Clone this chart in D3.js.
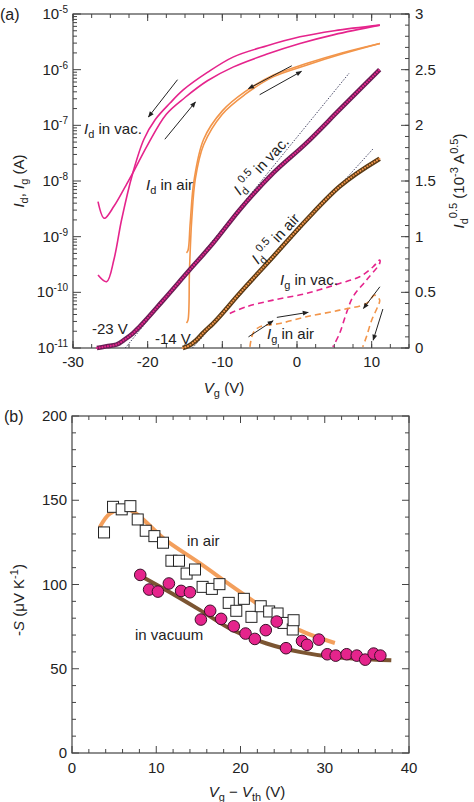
<!DOCTYPE html>
<html><head><meta charset="utf-8">
<script src="https://cdn.jsdelivr.net/npm/d3@7.9.0/dist/d3.min.js"></script>
<style>
body{margin:0;background:#fff}
text{font-family:"Liberation Sans",Arial,sans-serif;fill:#222}
</style></head><body>
<svg id="chart" width="474" height="802"></svg>
<script>
// ---- panel (a) data: [Vg, log10(I)] or [Vg, Id^0.5 (1e-3 A^0.5)]
const idVacA = [[-26.65,-8.37],[-25.8,-8.67],[-24.5,-8.45],[-23,-8.1],[-22,-7.86],[-20,-7.35],[-17.5,-6.8],[-15,-6.5],[-12,-6.2],[-8.5,-5.95],[-4,-5.72],[0.4,-5.53],[5,-5.37],[11.1,-5.2]];
const idVacB = [[-26.65,-9.69],[-25.5,-9.81],[-24.5,-9.4],[-23.5,-8.7],[-22,-7.86],[-20.5,-7.25],[-19,-6.9],[-17,-6.6],[-15.2,-6.36],[-12,-6.05],[-8.5,-5.77],[-4,-5.57],[0.4,-5.41],[5,-5.3],[11.1,-5.2]];
const idAirA = [[-14.8,-10.55],[-14.6,-10.5],[-14.4,-9.6],[-14.1,-8.7],[-13.6,-7.95],[-12.5,-7.35],[-10,-6.8],[-7,-6.45],[-3.2,-6.13],[1.25,-5.92],[6,-5.72],[11.1,-5.53]];
const idAirB = [[-14.8,-9.29],[-14.6,-9.25],[-14.3,-8.75],[-13.8,-8.0],[-12.5,-7.25],[-10,-6.74],[-7,-6.4],[-3.2,-6.1],[1.25,-5.89],[6,-5.7],[11.1,-5.53]];
const igVac = [[-9,-10.38],[-6.8,-10.26],[-3.2,-10.14],[1.25,-10.02],[5.7,-9.84],[8.4,-9.72],[10.2,-9.54],[11.07,-9.42],[11.07,-9.48],[9.3,-9.78],[7.5,-10.08],[6.6,-10.38],[5.7,-10.74],[4.8,-10.98]];
const igAir = [[-6.3,-10.98],[-5.9,-10.74],[-5,-10.62],[-2.3,-10.56],[1.25,-10.44],[5.7,-10.32],[9.3,-10.2],[10.4,-10.05],[11.07,-10.14],[10.8,-10.26],[10,-10.5],[9.3,-10.8],[8.8,-10.98]];
const sqVac = [[-26.8,0],[-25.5,0.015],[-24.2,0.03],[-23,0.08],[-22,0.13],[-21.1,0.19],[-17.9,0.43],[-14.4,0.70],[-11.25,0.94],[-7.7,1.24],[-3.2,1.57],[1.25,1.84],[5.7,2.14],[11.07,2.5]];
const sqAir = [[-15.3,0],[-14.5,0.02],[-13.5,0.07],[-12.5,0.14],[-11.25,0.22],[-7.7,0.49],[-3.2,0.82],[1.25,1.15],[5.7,1.45],[11.07,1.70]];
const fitVac = [[-23,0],[7,2.47]];
const fitAir = [[-14,0],[10.2,1.79]];
// arrows [x1, log1, x2, log2]
const arrowsA = [[-16,-6.18,-19.9,-6.85],[-17.7,-7.25,-13.6,-6.58],[-0.7,-5.93,-6.5,-6.34],[-5,-6.45,0.6,-6.03],
  [-2.7,-10.45,1.5,-10.36],[11.1,-9.9,8.9,-10.29],[-6.5,-10.8,-3.2,-10.51],[11.5,-10.3,10.2,-10.86]];
const logTicks = [-11,-10,-9,-8,-7,-6,-5];
const rightTicks = [0,0.5,1,1.5,2,2.5,3];
const xTicksA = [-30,-20,-10,0,10];

// ---- panel (b) data: [Vg - Vth, -S]
const sAir = [[3.8,130.9],[4.87,146.1],[5.9,144.6],[6.93,146.5],[7.8,138.6],[8.75,131.9],[9.78,128.7],[10.8,124.8],[11.8,114.1],[12.7,114.1],[13.6,106.5],[14.6,108.9],[15.5,98.6],[16.6,97.4],[17.5,100.2],[18.6,89.1],[19.5,84.4],[20.4,91.5],[21.3,80.8],[22.4,87.1],[23.4,84],[24.4,82.8],[25.1,77.2],[26.2,73.3],[26.3,78.8]];
const sVac = [[8.1,105.7],[9.15,97],[10.2,95.8],[11.5,100.6],[12.95,96.2],[14,95.4],[15.3,79.2],[16.4,84.4],[17.7,79.6],[19.2,75.2],[20.6,70.9],[21.7,67.7],[23,72.9],[24.3,78],[25.4,62.2],[27.3,66.5],[27.9,64.2],[29.3,67.3],[30.3,58.6],[31.3,57.8],[32.6,58.6],[33.8,57.8],[34.8,55.4],[35.8,59],[36.6,57.8]];
const sAirFit = [[3.3,134],[4.5,142],[6.5,145],[11.2,126],[15.2,112.5],[19.1,98.6],[23.1,84.8],[27,72.9],[31.2,65.3]];
const sVacFit = [[8,105.5],[11.2,96.6],[15.2,84.8],[19.1,72.9],[23.1,65],[27,60],[31,57],[37.9,55]];
const yTicksB = [0,50,100,150,200];
const xTicksB = [0,10,20,30,40];

const pink = '#e5248c', orange = '#f2954a', brown = '#7b5532';
const svg = d3.select('#chart');
const fs = 15;

// ================= panel (a)
const xa = d3.scaleLinear().domain([-30, 15]).range([73, 409]);
const ya = d3.scaleLinear().domain([-11, -5]).range([348, 14]); // log10 units
const yr = d3.scaleLinear().domain([0, 3]).range([348, 14]);
const ga = svg.append('g');

function ticksOn(g, vals, pos, side, len) {
  vals.forEach(v => {
    const p = pos(v);
    if (side === 'b') g.append('line').attr('x1', p).attr('x2', p).attr('y1', 348).attr('y2', 348 - len);
    if (side === 't') g.append('line').attr('x1', p).attr('x2', p).attr('y1', 14).attr('y2', 14 + len);
    if (side === 'l') g.append('line').attr('y1', p).attr('y2', p).attr('x1', 73).attr('x2', 73 + len);
    if (side === 'r') g.append('line').attr('y1', p).attr('y2', p).attr('x1', 409).attr('x2', 409 - len);
  });
}
const tg = ga.append('g').attr('stroke', '#444').attr('stroke-width', 1);
ticksOn(tg, d3.range(-30, 15.1, 2.5), xa, 'b', 4);
ticksOn(tg, d3.range(-30, 15.1, 2.5), xa, 't', 4);
ticksOn(tg, xTicksA, xa, 'b', 7);
ticksOn(tg, xTicksA, xa, 't', 7);
const minorLog = [];
logTicks.slice(0, -1).forEach(e => d3.range(2, 10).forEach(m => minorLog.push(e + Math.log10(m))));
ticksOn(tg, minorLog, ya, 'l', 4);
ticksOn(tg, logTicks, ya, 'l', 8);
ticksOn(tg, d3.range(0, 3.01, 0.1), yr, 'r', 4);
ticksOn(tg, rightTicks, yr, 'r', 8);
ga.append('rect').attr('x', 73).attr('y', 14).attr('width', 336).attr('height', 334)
  .attr('fill', 'none').attr('stroke', '#444').attr('stroke-width', 1.2);

logTicks.forEach(e => {
  const t = ga.append('text').attr('x', 68).attr('y', ya(e) + 5).attr('text-anchor', 'end').attr('font-size', fs);
  t.append('tspan').text('10');
  t.append('tspan').attr('dy', -6).attr('font-size', 10).text(e);
});
rightTicks.forEach(v => ga.append('text').attr('x', 415).attr('y', yr(v) + 5).attr('font-size', fs).text(v));
xTicksA.forEach(v => ga.append('text').attr('x', xa(v)).attr('y', 367).attr('text-anchor', 'middle').attr('font-size', fs).text(v));

const lineLogC = d3.line().x(d => xa(d[0])).y(d => ya(d[1])).curve(d3.curveCatmullRom);
const lineR = d3.line().x(d => xa(d[0])).y(d => yr(d[1])).curve(d3.curveMonotoneX);

[idVacA, idVacB].forEach(d => ga.append('path').attr('d', lineLogC(d)).attr('fill', 'none').attr('stroke', pink).attr('stroke-width', 1.6));
[idAirA, idAirB].forEach(d => ga.append('path').attr('d', lineLogC(d)).attr('fill', 'none').attr('stroke', orange).attr('stroke-width', 1.6));
ga.append('path').attr('d', lineLogC(igVac)).attr('fill', 'none').attr('stroke', pink).attr('stroke-width', 1.6).attr('stroke-dasharray', '6,4');
ga.append('path').attr('d', lineLogC(igAir)).attr('fill', 'none').attr('stroke', orange).attr('stroke-width', 1.6).attr('stroke-dasharray', '6,4');

[fitVac, fitAir].forEach(d => ga.append('path').attr('d', d3.line().x(p => xa(p[0])).y(p => yr(p[1]))(d))
  .attr('fill', 'none').attr('stroke', '#335').attr('stroke-width', 0.9).attr('stroke-dasharray', '1.5,1.5'));

[[sqVac, '#6b1d55', pink], [sqAir, '#5a3a14', orange]].forEach(([d, dark, light]) => {
  ga.append('path').attr('d', lineR(d)).attr('fill', 'none').attr('stroke', dark).attr('stroke-width', 4.6);
  ga.append('path').attr('d', lineR(d)).attr('fill', 'none').attr('stroke', light).attr('stroke-width', 2.2)
    .attr('stroke-linecap', 'round').attr('stroke-dasharray', '0,2.8');
});

const defs = svg.append('defs');
defs.append('marker').attr('id', 'ah').attr('viewBox', '0 0 10 10').attr('refX', 9).attr('refY', 5)
  .attr('markerWidth', 8).attr('markerHeight', 6).attr('orient', 'auto').attr('markerUnits', 'userSpaceOnUse')
  .append('path').attr('d', 'M0,1L10,5L0,9Z').attr('fill', '#222');
arrowsA.forEach(a => ga.append('line').attr('x1', xa(a[0])).attr('y1', ya(a[1])).attr('x2', xa(a[2])).attr('y2', ya(a[3]))
  .attr('stroke', '#222').attr('stroke-width', 1).attr('marker-end', 'url(#ah)'));

function subLabel(g, x, y, main, sub, rest, sup, rot) {
  const t = g.append('text').attr('x', x).attr('y', y).attr('font-size', fs);
  if (rot) t.attr('transform', `rotate(${rot},${x},${y})`);
  t.append('tspan').attr('font-style', 'italic').text(main);
  t.append('tspan').attr('dy', 4).attr('font-size', 11).text(sub);
  if (sup) { t.append('tspan').attr('dy', -11).attr('font-size', 11).text(sup); t.append('tspan').attr('dy', 7).text(rest); }
  else t.append('tspan').attr('dy', -4).text(rest);
  return t;
}
ga.append('text').attr('x', 0).attr('y', 20).attr('font-size', 16).text('(a)');
subLabel(ga, 84, 134, 'I', 'd', ' in vac.');
subLabel(ga, 146, 190, 'I', 'd', ' in air');
subLabel(ga, 240, 196, 'I', 'd', ' in vac.', '0.5', -47);
subLabel(ga, 258, 265, 'I', 'd', ' in air', '0.5', -47);
subLabel(ga, 280, 285, 'I', 'g', ' in vac.');
subLabel(ga, 267, 339, 'I', 'g', ' in air');
ga.append('text').attr('x', 92).attr('y', 334).attr('font-size', fs).text('-23 V');
ga.append('text').attr('x', 155).attr('y', 344).attr('font-size', fs).text('-14 V');

// axis titles (a)
const xt = ga.append('text').attr('x', 224).attr('y', 393).attr('text-anchor', 'middle').attr('font-size', fs);
xt.append('tspan').attr('font-style', 'italic').text('V');
xt.append('tspan').attr('dy', 4).attr('font-size', 11).text('g');
xt.append('tspan').attr('dy', -4).text(' (V)');
const ylt = ga.append('text').attr('transform', 'translate(24,181) rotate(-90)').attr('text-anchor', 'middle').attr('font-size', fs);
ylt.append('tspan').attr('font-style', 'italic').text('I');
ylt.append('tspan').attr('dy', 4).attr('font-size', 11).text('d');
ylt.append('tspan').attr('dy', -4).text(', ');
ylt.append('tspan').attr('font-style', 'italic').text('I');
ylt.append('tspan').attr('dy', 4).attr('font-size', 11).text('g');
ylt.append('tspan').attr('dy', -4).text(' (A)');
const yrt = ga.append('text').attr('transform', 'translate(464,181) rotate(-90)').attr('text-anchor', 'middle').attr('font-size', fs);
yrt.append('tspan').attr('font-style', 'italic').text('I');
yrt.append('tspan').attr('dy', 4).attr('font-size', 11).text('d');
yrt.append('tspan').attr('dy', -11).attr('font-size', 11).text('0.5');
yrt.append('tspan').attr('dy', 7).text(' (10');
yrt.append('tspan').attr('dy', -6).attr('font-size', 11).text('-3');
yrt.append('tspan').attr('dy', 6).text(' A');
yrt.append('tspan').attr('dy', -6).attr('font-size', 11).text('0.5');
yrt.append('tspan').attr('dy', 6).text(')');

// ================= panel (b)
const xb = d3.scaleLinear().domain([0, 40]).range([72, 409]);
const yb = d3.scaleLinear().domain([0, 200]).range([753, 416]);
const gb = svg.append('g');
const tb = gb.append('g').attr('stroke', '#444');
d3.range(0, 40.1, 2).forEach(v => {
  const l = v % 10 === 0 ? 7 : 4;
  tb.append('line').attr('x1', xb(v)).attr('x2', xb(v)).attr('y1', 753).attr('y2', 753 - l);
  tb.append('line').attr('x1', xb(v)).attr('x2', xb(v)).attr('y1', 416).attr('y2', 416 + l);
});
d3.range(0, 200.1, 10).forEach(v => {
  const l = v % 50 === 0 ? 7 : 4;
  tb.append('line').attr('y1', yb(v)).attr('y2', yb(v)).attr('x1', 72).attr('x2', 72 + l);
  tb.append('line').attr('y1', yb(v)).attr('y2', yb(v)).attr('x1', 409).attr('x2', 409 - l);
});
gb.append('rect').attr('x', 72).attr('y', 416).attr('width', 337).attr('height', 337)
  .attr('fill', 'none').attr('stroke', '#444').attr('stroke-width', 1.2);
yTicksB.forEach(v => gb.append('text').attr('x', 67).attr('y', yb(v) + 5).attr('text-anchor', 'end').attr('font-size', fs).text(v));
xTicksB.forEach(v => gb.append('text').attr('x', xb(v)).attr('y', 773).attr('text-anchor', 'middle').attr('font-size', fs).text(v));

const lineB = d3.line().x(d => xb(d[0])).y(d => yb(d[1])).curve(d3.curveCatmullRom);
gb.append('path').attr('d', lineB(sAirFit)).attr('fill', 'none').attr('stroke', orange).attr('stroke-width', 4).attr('opacity', 0.9);
gb.append('path').attr('d', lineB(sVacFit)).attr('fill', 'none').attr('stroke', brown).attr('stroke-width', 4);
gb.selectAll('rect.sq').data(sAir).join('rect').attr('class', 'sq')
  .attr('x', d => xb(d[0]) - 5.5).attr('y', d => yb(d[1]) - 5.5).attr('width', 11).attr('height', 11)
  .attr('fill', '#fff').attr('stroke', '#222').attr('stroke-width', 1);
gb.selectAll('circle').data(sVac).join('circle')
  .attr('cx', d => xb(d[0])).attr('cy', d => yb(d[1])).attr('r', 5.8)
  .attr('fill', pink).attr('stroke', '#3a1028').attr('stroke-width', 1);

gb.append('text').attr('x', 4).attr('y', 422).attr('font-size', 16).text('(b)');
gb.append('text').attr('x', 187).attr('y', 546).attr('font-size', fs).text('in air');
gb.append('text').attr('x', 135).attr('y', 640).attr('font-size', fs).text('in vacuum');
const xbt = gb.append('text').attr('x', 247).attr('y', 797).attr('text-anchor', 'middle').attr('font-size', fs);
xbt.append('tspan').attr('font-style', 'italic').text('V');
xbt.append('tspan').attr('dy', 4).attr('font-size', 11).text('g');
xbt.append('tspan').attr('dy', -4).text(' \u2212 ');
xbt.append('tspan').attr('font-style', 'italic').text('V');
xbt.append('tspan').attr('dy', 4).attr('font-size', 11).text('th');
xbt.append('tspan').attr('dy', -4).text(' (V)');
const ybt = gb.append('text').attr('transform', 'translate(24,600) rotate(-90)').attr('text-anchor', 'middle').attr('font-size', fs);
ybt.append('tspan').text('-');
ybt.append('tspan').attr('font-style', 'italic').text('S');
ybt.append('tspan').text(' (\u03bcV K');
ybt.append('tspan').attr('dy', -6).attr('font-size', 11).text('-1');
ybt.append('tspan').attr('dy', 6).text(')');
</script></body></html>
